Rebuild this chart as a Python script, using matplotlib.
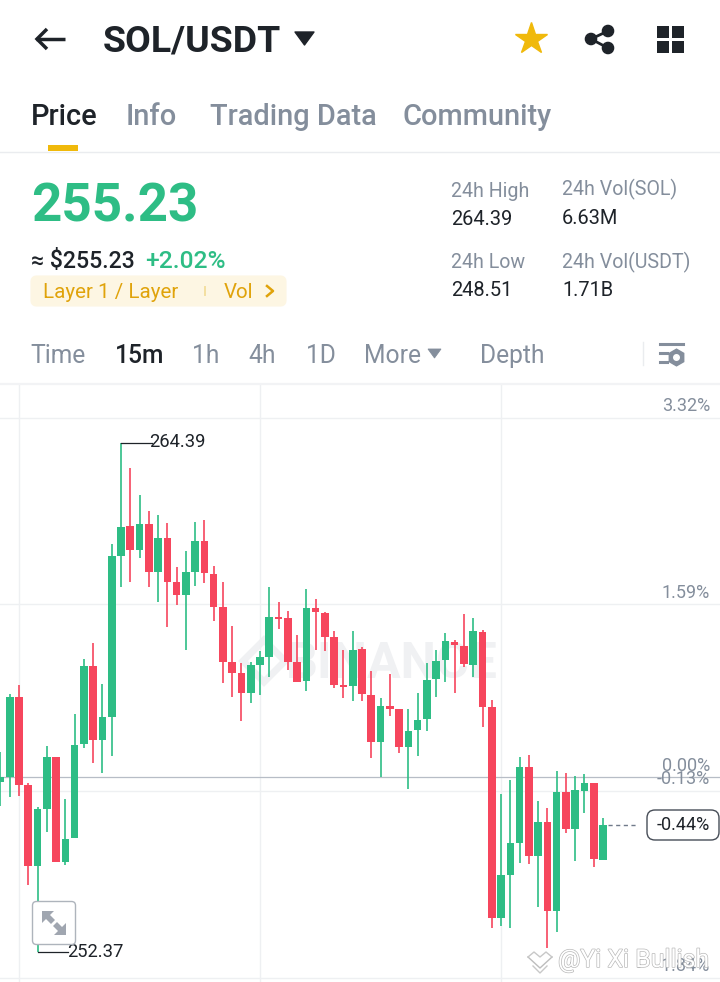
import matplotlib
matplotlib.use("Agg")
import matplotlib.pyplot as plt
from matplotlib.patches import Rectangle, FancyBboxPatch, Polygon, Circle
import matplotlib.patheffects as pe

plt.rcParams['font.family'] = ['Roboto', 'DejaVu Sans']

# ---------- data ----------
opens = [256.38,256.50,258.39,256.31,254.40,255.74,256.97,254.49,255.06,257.28,259.12,257.37,257.92,
 261.72,262.42,261.86,262.47,261.34,262.14,261.10,260.80,261.34,262.07,261.29,260.51,259.21,258.95,
 258.48,259.14,259.33,260.28,260.25,259.21,258.77,260.49,260.37,259.80,258.67,258.65,259.52,258.44,
 257.33,258.18,258.10,257.21,257.61,257.87,258.81,259.26,259.69,259.59,259.14,259.92,258.15,253.17,
 254.19,254.94,256.74,254.64,255.44,253.34,256.15,255.27,256.17,256.36,254.54]
closes = [256.50,258.39,256.31,254.40,255.74,256.97,254.49,255.04,257.26,259.12,257.37,257.92,261.72,
 262.40,261.86,262.47,261.34,262.14,261.10,260.80,261.34,262.07,261.31,260.51,259.21,258.95,258.48,
 259.14,259.33,260.28,260.23,259.21,258.74,260.49,260.39,259.80,258.67,258.62,259.50,258.46,257.33,
 258.18,258.10,257.21,257.59,257.85,258.79,259.24,259.71,259.62,259.17,259.95,258.15,253.17,254.19,
 254.94,256.74,254.64,255.44,253.34,256.15,255.27,256.19,256.36,254.56,255.37]
highs = [257.09,258.46,258.67,256.36,255.79,257.23,256.97,255.98,257.99,259.28,259.66,258.69,262.00,
 264.39,263.79,263.16,262.78,262.68,262.49,261.46,261.83,262.52,262.57,261.48,261.10,260.06,259.19,
 259.21,259.47,260.98,260.63,260.42,259.85,260.94,260.70,260.39,259.95,259.50,259.95,259.57,259.00,
 258.36,258.93,258.10,258.10,258.48,259.19,259.50,259.90,259.73,260.35,260.25,259.97,258.32,256.10,
 256.43,256.97,257.02,255.93,255.77,256.64,256.59,256.52,256.57,256.36,255.53]
lows = [255.82,256.03,256.05,253.95,252.37,255.20,254.49,254.42,255.06,257.18,256.83,256.59,257.00,
 260.98,261.10,261.67,260.98,260.63,260.04,260.56,259.50,261.01,261.08,260.18,258.72,258.39,257.82,
 258.25,258.44,258.86,259.99,259.03,258.74,258.53,259.50,259.47,258.60,258.36,258.29,258.29,256.95,
 256.50,257.94,257.07,256.22,257.00,257.59,258.39,258.74,258.48,259.10,258.86,257.68,252.94,252.98,
 252.94,254.47,254.45,253.43,252.46,252.84,255.18,254.52,255.65,254.38,254.54]
first_index = -13
vgrid_index = [-11, 15, 41]
hgrid_prices = [264.97, 260.57, 256.17, 251.76]
hgrid_labels = ['3.32%', '1.59%', '-0.13%', '-1.84%']
base_price = 256.50
base_label = '0.00%'
last_price = 255.37
last_label = '-0.44%'
high_price, high_label = 264.39, '264.39'
low_price, low_label = 252.37, '252.37'

tabs = [('Price', 31, '#1E2329'), ('Info', 126, '#848E9C'), ('Trading Data', 210, '#848E9C'), ('Community', 403, '#848E9C')]
periods = [('Time', 30, '#848E9C'), ('15m', 115, '#1E2329'), ('1h', 192, '#848E9C'), ('4h', 248, '#848E9C'),
           ('1D', 306, '#848E9C'), ('More', 364, '#848E9C'), ('Depth', 480, '#848E9C')]
stats = [('24h High', '264.39', 451, 190, 218), ('24h Vol(SOL)', '6.63M', 562, 188, 217),
         ('24h Low', '248.51', 451, 262, 290), ('24h Vol(USDT)', '1.71B', 562, 261, 289)]

GREEN, RED, DARK, GREY, GOLD = '#2EBD85', '#F6465D', '#1E2329', '#848E9C', '#F0B90B'
GRID = '#EEF0F2'

fig = plt.figure(figsize=(7.2, 9.82), dpi=100, facecolor='white')

# ---------- chart ----------
ax = fig.add_axes([0, 0, 1, (982 - 385) / 982])
ax.set_xlim(-13.05, 64.62)
ax.set_ylim(251.66, 265.75)
ax.axis('off')
for v in vgrid_index:
    ax.axvline(v, color=GRID, lw=1.0, zorder=1)
for p in hgrid_prices:
    ax.axhline(p, color=GRID, lw=1.0, zorder=1)
ax.axhline(base_price, color='#B7BDC6', lw=0.9, zorder=3)

for i, (o, c, h, l) in enumerate(zip(opens, closes, highs, lows)):
    x = first_index + i
    col = GREEN if c >= o else RED
    ax.plot([x, x], [l, h], color=col, lw=1.2, solid_capstyle='butt', zorder=4)
    ax.add_patch(Rectangle((x - 0.41, min(o, c)), 0.82, abs(c - o), facecolor=col, edgecolor='none', zorder=5))

trans = ax.get_yaxis_transform()
for p, t in zip(hgrid_prices, hgrid_labels):
    ax.annotate(t, xy=(710 / 720, p), xycoords=trans, xytext=(0, 8.4),
                textcoords='offset points', ha='right', va='center', fontsize=13, color=GREY, zorder=6)
ax.annotate(base_label, xy=(710 / 720, base_price), xycoords=trans, xytext=(0, 7.6), textcoords='offset points',
            ha='right', va='center', fontsize=13, color=GREY, zorder=6)

# high / low callouts
ax.plot([0, 3.3], [high_price, high_price], color=DARK, lw=0.9, zorder=6)
ax.annotate(high_label, xy=(3.3, high_price), xytext=(-1.8, 0.6), textcoords='offset points', va='center',
            fontsize=13.2, color=DARK, zorder=6)
ax.plot([-9, -5.7], [low_price, low_price], color=DARK, lw=0.9, zorder=6)
ax.annotate(low_label, xy=(-5.7, low_price), xytext=(-0.7, 0), textcoords='offset points', va='center',
            fontsize=13.2, color=DARK, zorder=6)
# last price
ax.plot([52.5, 55.8], [last_price, last_price], color='#707A8A', lw=1.0, ls=(0, (3, 2.5)), zorder=6)
ax.annotate(last_label, xy=(683.5 / 720, last_price), xycoords=trans, ha='center', va='center',
            fontsize=13, color=DARK, zorder=8)

# ---------- page furniture (pixel coordinates) ----------
ui = fig.add_axes([0, 0, 1, 1], facecolor='none')
ui.set_xlim(0, 720)
ui.set_ylim(982, 0)
ui.axis('off')

def T(x, y, s, size, color=DARK, weight='normal', ha='left', **kw):
    return ui.text(x, y, s, fontsize=size * 0.72, color=color, fontweight=weight, ha=ha, va='center', **kw)

# back arrow
ui.plot([36, 65], [39, 39], color=DARK, lw=2.5, solid_capstyle='butt')
ui.plot([47, 37, 47], [29, 39, 49], color=DARK, lw=2.5, solid_joinstyle='miter', solid_capstyle='butt')
T(103, 41, 'SOL/USDT', 37.4, DARK, 'bold')
ui.add_patch(Polygon([[295, 32], [314, 32], [304.5, 45]], closed=True, facecolor=DARK, edgecolor=DARK, lw=1, joinstyle='round'))
ui.plot([531], [39], marker='*', ms=24, color=GOLD, mec=GOLD)
# share
for cx, cy in [(608, 31), (591, 39), (608, 48)]:
    ui.add_patch(Circle((cx, cy), 5.6, color=DARK))
ui.plot([608, 591, 608], [31, 39, 48], color=DARK, lw=2)
# grid icon
for x0 in (657, 672):
    for y0 in (26, 41):
        ui.add_patch(Rectangle((x0, y0), 11.5, 11.5, facecolor=DARK, edgecolor='none'))

for s, x, c in tabs:
    T(x, 117, s, 29, c, 'medium')
ui.add_patch(Rectangle((48, 145), 30, 6, facecolor=GOLD, edgecolor='none'))
ui.plot([0, 720], [151.5, 151.5], color='#EAECEF', lw=1)

T(31, 207, '255.23', 53, GREEN, 'bold')
T(31, 261, '≈ $255.23', 23, DARK, 'medium')
T(145, 261, '+2.02%', 24.5, GREEN, 'medium')
ui.add_patch(FancyBboxPatch((36, 281), 245, 20, boxstyle='round,pad=0,rounding_size=0', facecolor='#FDF6E3',
                            edgecolor='#FDF6E3', lw=8, joinstyle='round'))
T(43, 292, 'Layer 1 / Layer', 20.5, '#E0A30B')
ui.plot([204.5, 204.5], [287, 295], color='#F3DFA0', lw=1.4)
T(224, 292, 'Vol', 20.5, '#E0A30B')
ui.plot([267, 273, 267], [286, 291, 296], color='#E0A30B', lw=1.8)

for a, b, x, y1, y2 in stats:
    T(x, y1 + 1, a, 19.6, GREY)
    T(x, y2 + 1, b, 20, DARK)

for s, x, c in periods:
    T(x, 356, s, 24.6, c, 'medium' if s == '15m' else 'normal')
ui.add_patch(Polygon([[428, 349], [441, 349], [434.5, 358]], closed=True, facecolor=GREY, edgecolor=GREY, lw=0.6))
ui.plot([642.5, 642.5], [342, 365], color='#EAECEF', lw=1)
ui.plot([660, 683], [343.5, 343.5], color=GREY, lw=2.2)
ui.plot([660, 667], [353, 353], color=GREY, lw=2.2)
ui.plot([660, 667], [362, 362], color=GREY, lw=2.2)
ui.plot([676], [357], marker='h', ms=12, mfc=GREY, mec=GREY)
ui.plot([676], [357], marker='o', ms=4, mfc='white', mec='white')
ui.plot([0, 720], [384, 384], color='#F2F3F5', lw=1.6)

# watermark: logo word
T(392, 664, 'BINANCE', 50, '#F0F1F3', 'bold', ha='center').set_zorder(0)
ui.add_patch(Polygon([[264, 640], [285, 661], [264, 682], [243, 661]], closed=True, facecolor='none',
                     edgecolor='#F0F1F3', lw=5, zorder=0))

# last-price pill
ui.add_patch(FancyBboxPatch((647, 810), 72, 30, boxstyle='round,pad=0,rounding_size=8', facecolor='white',
                            edgecolor='#474D57', lw=1.0, zorder=1))
ui.set_zorder(1)
ax.set_zorder(2)

# expand button + overlay watermark on top of everything
top = fig.add_axes([0, 0, 1, 1], facecolor='none')
top.set_xlim(0, 720)
top.set_ylim(982, 0)
top.axis('off')
top.set_zorder(3)
top.add_patch(FancyBboxPatch((32.5, 901.5), 43, 43, boxstyle='round,pad=0,rounding_size=4', facecolor='white',
                             edgecolor='#AEB4BC', lw=1.0))
top.add_patch(Polygon([[42, 911], [54, 911], [50, 915], [55, 920], [51, 924], [46, 919], [42, 923]], closed=True,
                      facecolor='#A0A6B0', edgecolor='none'))
top.add_patch(Polygon([[66, 935], [54, 935], [58, 931], [53, 926], [57, 922], [62, 927], [66, 923]], closed=True,
                      facecolor='#A0A6B0', edgecolor='none'))
outline = [pe.withStroke(linewidth=1.0, foreground='#B9B9B9')]
top.text(558, 960, '@Yi Xi Bullish', fontsize=17.9, color='white', va='center', ha='left', path_effects=outline)
top.plot([528, 540, 552], [957, 968, 957], color='#BDBDBD', lw=1)
top.plot([528, 534, 540, 546, 552], [957, 952, 957, 952, 957], color='#C8C8C8', lw=1)
top.plot([533, 540, 547], [966, 973, 966], color='#C8C8C8', lw=1)

fig.savefig('out.png', dpi=100, facecolor='white')
